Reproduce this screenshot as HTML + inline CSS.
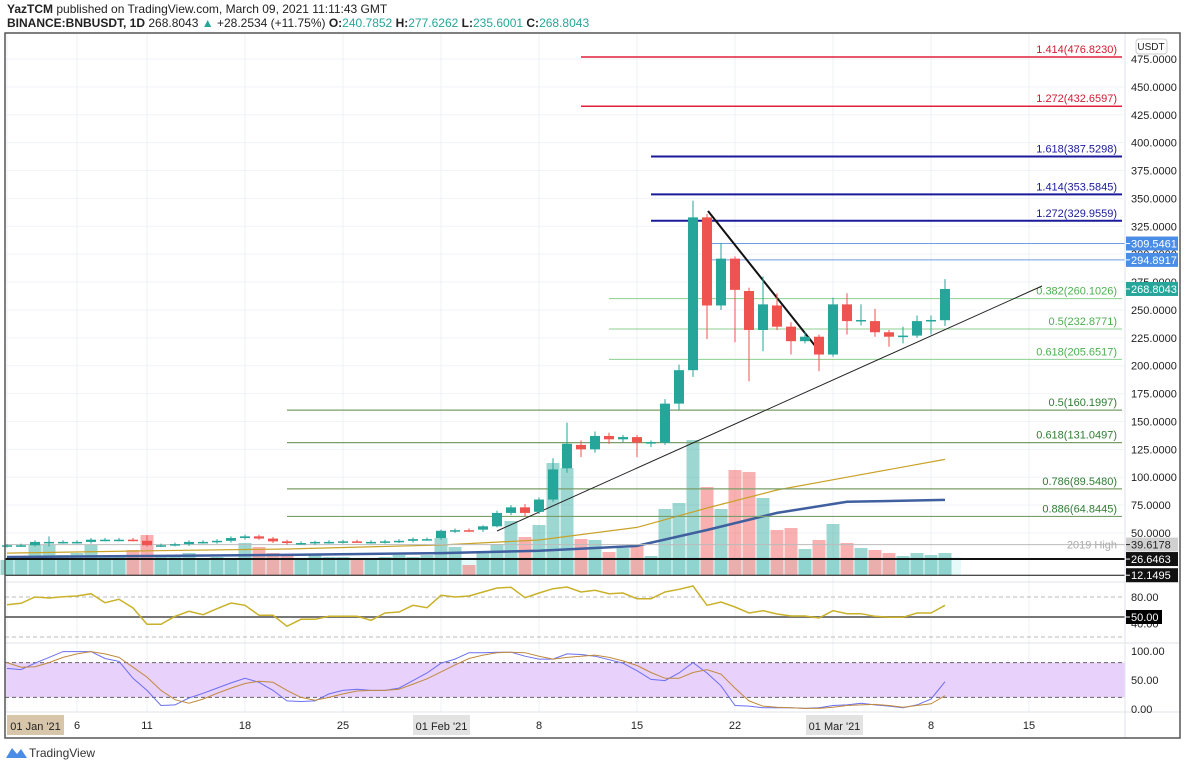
<!DOCTYPE html>
<html><head><meta charset="utf-8"><style>
body{margin:0;background:#fff;width:1186px;height:768px;overflow:hidden;font-family:"Liberation Sans",sans-serif}
svg{position:absolute;left:0;top:0}
</style></head><body>
<svg id="c" width="1186" height="768" xmlns="http://www.w3.org/2000/svg">
<text x="7" y="13" font-size="12" fill="#222"><tspan font-weight="bold">YazTCM</tspan> published on TradingView.com, March 09, 2021 11:11:43 GMT</text>
<text x="7" y="27" font-size="12" fill="#222"><tspan font-weight="bold">BINANCE:BNBUSDT, 1D</tspan> 268.8043 <tspan fill="#26a69a">▲</tspan> +28.2534 (+11.75%) <tspan font-weight="bold">O:</tspan><tspan fill="#26a69a">240.7852</tspan> <tspan font-weight="bold">H:</tspan><tspan fill="#26a69a">277.6262</tspan> <tspan font-weight="bold">L:</tspan><tspan fill="#26a69a">235.6001</tspan> <tspan font-weight="bold">C:</tspan><tspan fill="#26a69a">268.8043</tspan></text>
<g id="g"></g>
</svg>
<script>
// ---- data (Jan 1 .. Mar 9 2021, daily) ----
const opens=[38,39,39,42,42,42,42,44,44,44,43,39,39,40,42,42,43,45.5,47,45,42.5,41,41,42,42,42.5,42,42,42.5,43,44.5,
45.5,52,52.5,53,56,68,73,69,80,108,129,125,137,134,136,131,131,166,196,333,254,296,267,232,254,235,222,226,210,255,240,240,230,226,227,240,240.79];
const highs=[40,40.5,43.5,47,43.5,43.5,45.5,45.5,45.5,45.5,48,40.5,41.5,43.5,43.5,44.5,47,48.5,48.5,46.5,44,42.5,43,43.5,44,44,43.5,44,44.5,46,46,
53,54,54,57,70,75,76,82,117,149,133,141,140,138,138,133,170,201,348,336,310,298,270,280,265,239,230,228,261,265,255,251,232,235,245,245,277.63];
const lows=[37,37.5,38,38,40.5,40.5,40.5,42.5,42.5,42.5,38,37.5,38,38.5,40.5,40.5,41.5,44,44,41,39.5,39.5,39.5,40.5,40.5,41,40.5,40.5,41,41.5,43,
44,50,51,51,55,66,65,67,78,104,118,122,130,131,118,127,129,160,190,224,250,221,186,213,232,210,220,195,208,228,236,226,217,220,225,228,235.6];
const closes=[39,39,42,42,42,42,44,44,44,43,39,39,40,42,42,43,45.5,47,45,42.5,41,41,42,42,42.5,42,42,42.5,43,44.5,44.5,
52,52.5,52,56,68,73,68,80,107,130,125,137,134,136,131,131.5,166,196,333,254,296,268,232,255,235,222,226,210,255,240,241,230,226,227,240,241,268.80];
const volumes=[15,15,30,30,20,22,30,18,18,25,40,18,20,22,16,18,16,32,28,22,20,16,20,18,18,16,16,18,20,18,20,
37,28,10,24,31,54,38,50,112,107,36,35,23,27,30,19,66,72,135,88,66,105,103,77,45,47,26,35,51,32,27,25,22,19,22,20,22];
const rsi=[68.5,70.5,80,78.5,80.5,81.5,85,71.5,76.5,63.5,39,39,51,58.5,53.5,62.5,71,67.5,52.5,52.5,36,46.5,46.5,51,51,51,45,56,57.5,
67.5,64,82.5,80,81.5,87.5,93.5,94.5,79,86,92.5,95,87.5,90,85,86,77.5,77.5,87.5,91.5,96.5,67.5,72.5,65,56,59.5,54.5,51.5,
51.5,48.5,59.5,55,55,51,49.5,49.5,56,56,67.5];
const stochK=[70,68,79,89,99,99,99,87,82,53,32,6,7,19,27,36,45,53,46,32,14,13,14,26,32,34,32,32,36,
49,62,79,86,97,97,98,98,91,86,86,95,94,91,85,79,66,51,49,62,80,62,40,6,5,2,2,2,
1,2,6,7,10,7,5,2,7,17,47];
const stochD=[80,72,73,80,89,95,99,95,89,72,55,32,16,10,17,27,36,44,48,46,32,20,15,20,26,31,32,32,34,
43,52,64,76,87,93,97,98,97,91,86,89,91,93,89,83,75,63,53,53,63,68,60,36,14,5,3,2,
1,1,3,6,7,8,6,3,6,9,23];
const maDays=[0,10,20,31,38,45,50,55,60,67];
const maSlow=[32,34,35.7,39.2,43.7,55,72.4,88.6,100,116];
const maLong=[28.5,29.4,30.4,32,34,38.4,52.7,68,78,79.7];
const priceTicks=[475,450,425,400,375,350,325,300,275,250,225,200,175,150,125,100,75,50];
const dateTicks=[[5,"6"],[10,"11"],[17,"18"],[24,"25"],[38,"8"],[45,"15"],[52,"22"],[66,"8"],[73,"15"]];
const fibRed=[["1.414",476.823],["1.272",432.6597]];
const fibNavy=[["1.618",387.5298],["1.414",353.5845],["1.272",329.9559]];
const fibBlue=[309.5461,294.8917];
const fibGreenA=[["0.382",260.1026],["0.5",232.8771],["0.618",205.6517]];
const fibGreenB=[["0.5",160.1997],["0.618",131.0497],["0.786",89.548],["0.886",64.8445]];

// ---- axes ----
const X=i=>7+14*i;
const PY=p=>59+(475-p)*1.1153;
const VY=v=>575-v;
const RY=v=>617-(v-50)*2/3;
const SY=v=>709-v*0.58;
const NS="http://www.w3.org/2000/svg";
const G=document.getElementById('g');
function el(t,a,parent){const e=document.createElementNS(NS,t);for(const k in a)e.setAttribute(k,a[k]);(parent||G).appendChild(e);return e;}
function line(x1,y1,x2,y2,s,w,extra){return el('line',Object.assign({x1,y1,x2,y2,stroke:s,'stroke-width':w},extra||{}));}
function txt(x,y,s,fill,anchor,size){const e=el('text',{x,y,fill,'font-size':size||11,'text-anchor':anchor||'start'});e.textContent=s;return e;}

// grid
priceTicks.forEach(p=>{const l=line(5,PY(p),1125,PY(p),'#f0f3fa',1);});
[X(0)].concat(dateTicks.map(d=>X(d[0])),[X(31),X(59)]).forEach(x=>{const l=line(x,33,x,712,'#eef0f5',1);});
el('rect',{x:6,y:557,width:955,height:18,fill:'#e6fafa'});

// volume
volumes.forEach((v,i)=>{const up=closes[i]>=opens[i];
 const r=el('rect',{x:X(i)-6.5,y:VY(v),width:13,height:v,fill:up?'rgba(38,166,154,0.45)':'rgba(239,83,80,0.45)'});
 
 });

// MAs
function maPath(arr,color,w,name){const d=maDays.map((day,k)=>(k?'L':'M')+X(day)+','+PY(arr[k]).toFixed(1)).join('');
 const p=el('path',{d,fill:'none',stroke:color,'stroke-width':w});
 
 }
maPath(maSlow,'#c9a227',1.2,'ma-50-line');
maPath(maLong,'#3f5f9f',2.5,'ma-200-line');

[[39.6178,'#bbb',1],[26.6463,'#111',2],[12.1495,'#111',1]].forEach(a=>{const l=line(5,PY(a[0]),1125,PY(a[0]),a[1],a[2]);});
txt(1117,PY(39.6178)+4,'2019 High','#aaa','end',11);

function fib(list,x0,color,w,tcol,name){list.forEach(f=>{const y=PY(f[1]);const l=line(x0,y,1122,y,color,w);
 const t=txt(1117,y-4,f[0]+'('+f[1].toFixed(4)+')',tcol,'end',11);});}
fib(fibRed,581,'#e0203a',1.5,'#d01b30','fib-extension-red');
fib(fibNavy,651,'#1a1a9a',2,'#1a1a9a','fib-extension-navy');
fibBlue.forEach(p=>{const l=line(711,PY(p),1125,PY(p),'#6f9ee0',1);});
fib(fibGreenA,609,'#8ccf8f',1,'#4caf50','fib-retrace-upper');
fib(fibGreenB,287,'#7a9e6a',1.2,'#2e7d32','fib-retrace-lower');

line(708,211,820,352,'#111',2);
line(497,531,1042,286,'#222',1);

// candles
opens.forEach((o,i)=>{const c=closes[i],up=c>=o,col=up?'#26a69a':'#ef5350';
 const wk=line(X(i),PY(highs[i]),X(i),PY(lows[i]),col,1);
 
 
 const top=PY(Math.max(o,c)),h=Math.max(1.5,Math.abs(PY(o)-PY(c)));
 const b=el('rect',{x:X(i)-5,y:top,width:10,height:h,fill:col});
 
 });

// RSI pane
line(5,582,1180,582,'#e0e3eb',1);
[80,20].forEach(v=>line(5,RY(v),1125,RY(v),'#bbb',1,{'stroke-dasharray':'4,3'}));
line(5,RY(50),1125,RY(50),'#777',2);
const rp=el('polyline',{points:rsi.map((v,i)=>X(i)+','+RY(v).toFixed(1)).join(' '),fill:'none',stroke:'#c9b12a','stroke-width':1.5});



// Stoch pane
line(5,643,1180,643,'#e0e3eb',1);
el('rect',{x:5,y:SY(80),width:1120,height:SY(20)-SY(80),fill:'#e8d1fb'});
[80,20].forEach(v=>line(5,SY(v),1125,SY(v),'#666',1,{'stroke-dasharray':'4,3'}));
const kp=el('polyline',{points:stochK.map((v,i)=>X(i)+','+SY(v).toFixed(1)).join(' '),fill:'none',stroke:'#6b6ef0','stroke-width':1});


const dp=el('polyline',{points:stochD.map((v,i)=>X(i)+','+SY(v).toFixed(1)).join(' '),fill:'none',stroke:'#c08a3e','stroke-width':1});



// time axis
line(5,712,1180,712,'#e0e3eb',1);
dateTicks.forEach(d=>{const t=txt(X(d[0]),729,d[1],'#222','middle',11);});
function box(x,y,w,h,fill,label,tc,name){el('rect',{x,y,width:w,height:h,fill});const t=txt(x+w/2,y+h-5,label,tc,'middle',11);}
box(7,715,57,20,'#d8c6ab',"01 Jan '21",'#222','date-label-jan');
box(413,715,57,20,'#e3e3e3',"01 Feb '21",'#222','date-label-feb');
box(806,715,57,20,'#e3e3e3',"01 Mar '21",'#222','date-label-mar');

// price axis
line(1125,33,1125,738,'#e0e3eb',1);
priceTicks.forEach(p=>{const t=txt(1131,PY(p)+4,p.toFixed(4),'#222','start',11);});
el('rect',{x:1136,y:39,width:31,height:15,rx:3,fill:'#fff',stroke:'#ccc'});
txt(1151,50,'USDT','#222','middle',10);
function pbox(p,fill,tc,name){el('rect',{x:1126,y:PY(p)-7,width:52,height:14,fill});line(1126,PY(p),1130,PY(p),tc,1);const t=txt(1131,PY(p)+4,p.toFixed(4),tc,'start',11);}
pbox(309.5461,'#4a8de6','#fff','price-box-309');
pbox(294.8917,'#4a8de6','#fff','price-box-294');
pbox(268.8043,'#26a69a','#fff','last-price-box');
pbox(39.6178,'#d0d0d0','#222','price-box-2019-high');
pbox(26.6463,'#111','#fff','price-box-26');
pbox(12.1495,'#111','#fff','price-box-12');
[[80,'80.00'],[40,'40.00']].forEach(a=>txt(1131,RY(a[0])+4,a[1],'#222','start',11));
el('rect',{x:1126,y:RY(50)-7,width:36,height:14,fill:'#000'});
line(1126,RY(50),1130,RY(50),'#fff',1);
txt(1131,RY(50)+4,'50.00','#fff','start',11);
[[100,'100.00'],[50,'50.00'],[0,'0.00']].forEach(a=>txt(1131,SY(a[0])+4,a[1],'#222','start',11));

el('rect',{x:5,y:33,width:1175,height:705,fill:'none',stroke:'#555','stroke-width':1.5});

const lg=el('path',{d:'M6,758 L12,748 L17,754 L21,749 L27,758 Z',fill:'#4a8de6'});


txt(29,757,'TradingView','#333','start',12);
</script>
</body></html>
